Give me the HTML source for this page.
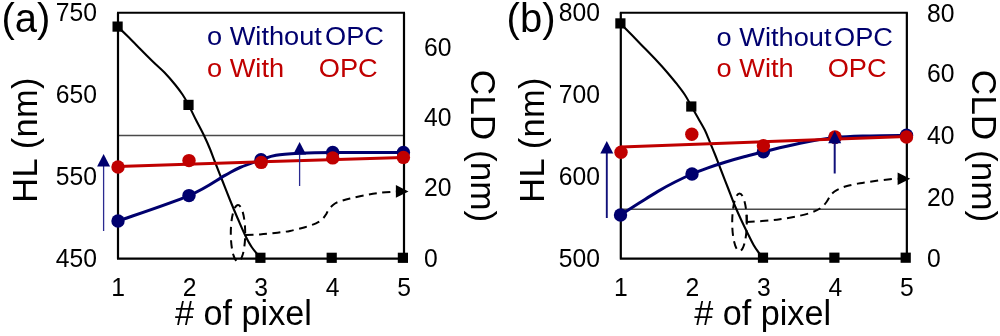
<!DOCTYPE html>
<html><head><meta charset="utf-8"><title>figure</title>
<style>
html,body{margin:0;padding:0;background:#fff;}
svg{display:block;}
text{font-family:"Liberation Sans",Arial,sans-serif;}
</style></head><body>
<svg width="1000" height="336" viewBox="0 0 1000 336">
<rect width="1000" height="336" fill="#fff"/>
<g>
<line x1="118" y1="135.6" x2="404" y2="135.6" stroke="#4a4a4a" stroke-width="1.5"/>
<path d="M117,12.75 H405" stroke="#000" stroke-width="2" fill="none"/>
<path d="M118,12.75 V258.7 M404,12.75 V258.7 M117,258.7 H405" stroke="#000" stroke-width="2.2" fill="none"/>
<path d="M117.5,26.6 C119.5,28.4 125.2,33.7 129.0,37.5 C132.8,41.3 136.6,45.3 140.5,49.3 C144.4,53.3 148.5,57.4 152.5,61.2 C156.5,65.1 160.8,68.6 164.5,72.5 C168.2,76.4 172.0,80.8 175.0,84.5 C178.0,88.2 180.2,91.1 182.5,94.5 C184.8,97.9 186.3,100.8 188.6,105.0 C190.8,109.2 193.4,114.9 196.0,120.0 C198.6,125.1 201.7,130.7 204.0,135.5 C206.3,140.3 208.2,144.6 210.0,149.0 C211.8,153.4 212.9,156.7 215.0,162.0 C217.1,167.3 220.0,174.7 222.5,181.0 C225.0,187.3 227.5,193.8 230.0,200.0 C232.5,206.2 235.0,212.2 237.5,218.0 C240.0,223.8 242.6,230.1 245.0,235.0 C247.4,239.9 249.4,243.7 252.0,247.5 C254.6,251.3 259.0,256.0 260.4,257.8" stroke="#000" stroke-width="2.1" fill="none"/>
<rect x="112.5" y="21.5" width="10.2" height="10.2" fill="#000"/>
<rect x="183.4" y="99.8" width="10.2" height="10.2" fill="#000"/>
<rect x="255.3" y="252.7" width="10.2" height="10.2" fill="#000"/>
<rect x="326.6" y="252.7" width="10.2" height="10.2" fill="#000"/>
<rect x="397.8" y="252.7" width="10.2" height="10.2" fill="#000"/>
<ellipse cx="238" cy="233.3" rx="7.2" ry="28.2" stroke="#000" stroke-width="2" fill="none" stroke-dasharray="8,5.5" stroke-dashoffset="8.5"/>
<path d="M245.5,235.0 C247.9,234.9 255.1,234.7 260.0,234.4 C264.9,234.1 270.0,233.6 275.0,233.0 C280.0,232.4 285.0,231.9 290.0,230.9 C295.0,229.9 300.7,228.5 305.0,227.2 C309.3,225.9 313.2,224.6 316.0,223.3 C318.8,222.0 320.3,221.0 322.0,219.5 C323.7,218.0 324.8,216.2 326.0,214.5 C327.2,212.8 327.5,210.8 329.0,209.0 C330.5,207.2 332.8,204.9 335.0,203.5 C337.2,202.1 339.5,201.5 342.0,200.7 C344.5,199.9 346.2,199.4 350.0,198.5 C353.8,197.6 360.0,196.1 365.0,195.2 C370.0,194.2 374.8,193.4 380.0,192.8 C385.2,192.2 393.3,191.7 396.0,191.5" stroke="#000" stroke-width="2" fill="none" stroke-dasharray="8,5.5"/>
<path d="M395.9,185.1 L395.9,197.7 L408.5,191.4 Z" fill="#000"/>
<path d="M118.0,221.0 C129.8,216.8 171.2,203.2 189.0,195.6 C206.8,188.0 216.5,180.1 225.0,175.4 C233.5,170.7 234.0,170.1 240.0,167.5 C246.0,164.9 255.0,161.8 261.0,159.8 C267.0,157.8 269.5,156.4 276.0,155.3 C282.5,154.2 290.6,153.8 300.0,153.3 C309.4,152.8 315.5,152.6 332.7,152.5 C349.9,152.4 391.6,152.5 403.4,152.5" stroke="#00006e" stroke-width="3" fill="none" stroke-linecap="round"/>
<circle cx="118.0" cy="221.0" r="6.7" fill="#00006e"/>
<circle cx="189.0" cy="195.6" r="6.7" fill="#00006e"/>
<circle cx="261.0" cy="159.8" r="6.7" fill="#00006e"/>
<circle cx="332.7" cy="152.5" r="6.7" fill="#00006e"/>
<circle cx="403.4" cy="152.5" r="6.7" fill="#00006e"/>
<line x1="118" y1="166.4" x2="403.4" y2="157.4" stroke="#c00000" stroke-width="3"/>
<circle cx="118.0" cy="167.0" r="6.7" fill="#c00000"/>
<circle cx="189.0" cy="160.6" r="6.7" fill="#c00000"/>
<circle cx="261.2" cy="162.4" r="6.7" fill="#c00000"/>
<circle cx="332.7" cy="157.9" r="6.7" fill="#c00000"/>
<circle cx="403.4" cy="157.4" r="6.7" fill="#c00000"/>
<line x1="103.6" y1="159.9" x2="103.6" y2="231" stroke="#2a2a90" stroke-width="1.3"/>
<path d="M103.6,153.9 L97.1,166.4 L110.1,166.4 Z" fill="#00006e"/>
<line x1="299.6" y1="147.9" x2="299.6" y2="186" stroke="#2a2a90" stroke-width="1.3"/>
<path d="M299.6,141.9 L293.1,154.4 L306.1,154.4 Z" fill="#00006e"/>
<text x="1.5" y="31.8" font-size="40">(a)</text>
<text transform="translate(97,21.3) scale(1,1.045)" font-size="24.7" text-anchor="end">750</text>
<text transform="translate(97,103.2) scale(1,1.045)" font-size="24.7" text-anchor="end">650</text>
<text transform="translate(97,185.2) scale(1,1.045)" font-size="24.7" text-anchor="end">550</text>
<text transform="translate(97,267.2) scale(1,1.045)" font-size="24.7" text-anchor="end">450</text>
<text transform="translate(423.9,56.4) scale(1,1.045)" font-size="24.7">60</text>
<text transform="translate(423.9,125.9) scale(1,1.045)" font-size="24.7">40</text>
<text transform="translate(423.9,195.8) scale(1,1.045)" font-size="24.7">20</text>
<text transform="translate(423.9,266.6) scale(1,1.045)" font-size="24.7">0</text>
<text transform="translate(118.0,296) scale(1,1.045)" font-size="24.7" text-anchor="middle">1</text>
<text transform="translate(189.5,296) scale(1,1.045)" font-size="24.7" text-anchor="middle">2</text>
<text transform="translate(261.0,296) scale(1,1.045)" font-size="24.7" text-anchor="middle">3</text>
<text transform="translate(332.5,296) scale(1,1.045)" font-size="24.7" text-anchor="middle">4</text>
<text transform="translate(404.0,296) scale(1,1.045)" font-size="24.7" text-anchor="middle">5</text>
<text x="175" y="325.4" font-size="34.2"># of pixel</text>
<text transform="translate(36.9,202.8) rotate(-90) scale(1,1.03)" font-size="34.4" letter-spacing="0.4">HL (nm)</text>
<text transform="translate(470.9,69.8) rotate(90) scale(1,1.02)" font-size="35.2">CLD (nm)</text>
<text transform="translate(207,45.2) scale(1,0.975)" font-size="27.2" fill="#00006e">o Without</text>
<text transform="translate(325,45.2) scale(1,0.975)" font-size="27.2" fill="#00006e">OPC</text>
<text transform="translate(207,76.6) scale(1,0.975)" font-size="27.2" fill="#c00000">o With</text>
<text transform="translate(318.8,76.6) scale(1,0.975)" font-size="27.2" fill="#c00000">OPC</text>
</g>
<g>
<line x1="620.8" y1="209.3" x2="906.85" y2="209.3" stroke="#4a4a4a" stroke-width="1.5"/>
<path d="M619.8,12.75 H907.85" stroke="#000" stroke-width="2" fill="none"/>
<path d="M620.8,12.75 V258.7 M906.85,12.75 V258.7 M619.8,258.7 H907.85" stroke="#000" stroke-width="2.2" fill="none"/>
<path d="M620.4,23.4 C623.7,26.7 633.9,37.1 640.0,43.4 C646.1,49.7 652.4,56.1 657.0,61.0 C661.6,65.9 664.2,68.8 667.5,72.7 C670.8,76.6 674.1,80.5 677.0,84.2 C679.9,87.9 682.6,91.3 685.0,95.0 C687.4,98.7 689.2,102.4 691.4,106.3 C693.6,110.2 696.0,114.3 698.2,118.3 C700.4,122.2 702.9,126.3 704.8,130.0 C706.6,133.7 707.6,136.5 709.3,140.6 C711.0,144.7 713.1,149.8 715.0,154.5 C716.9,159.2 718.4,163.4 720.6,169.0 C722.8,174.6 725.6,181.8 728.0,188.0 C730.4,194.2 732.8,200.8 735.0,206.0 C737.2,211.2 739.0,215.2 741.0,219.5 C743.0,223.8 744.9,227.8 747.0,232.0 C749.1,236.2 751.6,241.5 753.6,245.0 C755.6,248.5 757.4,250.9 759.0,253.0 C760.6,255.1 762.4,256.9 763.0,257.7" stroke="#000" stroke-width="2.1" fill="none"/>
<rect x="615.3" y="18.3" width="10.2" height="10.2" fill="#000"/>
<rect x="686.2" y="101.4" width="10.2" height="10.2" fill="#000"/>
<rect x="757.9" y="252.6" width="10.2" height="10.2" fill="#000"/>
<rect x="829.3" y="252.6" width="10.2" height="10.2" fill="#000"/>
<rect x="900.6" y="252.6" width="10.2" height="10.2" fill="#000"/>
<ellipse cx="739.5" cy="222.3" rx="7.3" ry="28.8" stroke="#000" stroke-width="2" fill="none" stroke-dasharray="8,5.5" stroke-dashoffset="5.7"/>
<path d="M746.7,222.0 C749.8,221.8 759.5,221.2 765.0,220.8 C770.5,220.4 775.0,220.0 780.0,219.3 C785.0,218.6 790.0,217.8 795.0,216.8 C800.0,215.7 805.8,214.4 810.0,213.0 C814.2,211.6 817.2,210.3 820.0,208.5 C822.8,206.7 824.8,204.2 826.5,202.0 C828.2,199.8 829.2,197.2 830.5,195.5 C831.8,193.8 832.9,192.7 834.5,191.5 C836.1,190.3 837.9,189.4 840.0,188.5 C842.1,187.6 843.7,186.9 847.0,186.0 C850.3,185.1 855.3,184.1 860.0,183.2 C864.7,182.4 870.0,181.7 875.0,181.0 C880.0,180.3 886.2,179.6 890.0,179.2 C893.8,178.8 896.2,178.8 897.5,178.7" stroke="#000" stroke-width="2" fill="none" stroke-dasharray="8,5.5"/>
<path d="M746.7,215 V222.8" stroke="#000" stroke-width="2" fill="none"/>
<path d="M897.6,172.4 L897.6,185 L910.2,178.7 Z" fill="#000"/>
<path d="M620.5,215.0 C623.8,212.9 633.8,206.4 640.0,202.5 C646.2,198.6 651.7,195.0 657.5,191.6 C663.3,188.2 669.2,184.9 675.0,182.0 C680.8,179.1 686.5,176.4 692.0,174.0 C697.5,171.6 702.5,169.8 708.0,167.8 C713.5,165.8 718.8,164.1 725.0,162.2 C731.2,160.3 738.6,158.2 745.0,156.5 C751.4,154.8 754.2,154.0 763.4,151.8 C772.6,149.6 788.1,145.7 800.0,143.3 C811.9,140.9 823.3,138.8 835.0,137.6 C846.7,136.4 858.1,136.3 870.0,135.9 C881.9,135.5 900.4,135.4 906.5,135.3" stroke="#00006e" stroke-width="3" fill="none" stroke-linecap="round"/>
<circle cx="620.5" cy="215.0" r="6.7" fill="#00006e"/>
<circle cx="692.0" cy="174.0" r="6.7" fill="#00006e"/>
<circle cx="763.4" cy="151.8" r="6.7" fill="#00006e"/>
<circle cx="835.0" cy="137.6" r="6.7" fill="#00006e"/>
<circle cx="906.5" cy="135.3" r="6.7" fill="#00006e"/>
<line x1="621" y1="147" x2="906.5" y2="136.6" stroke="#c00000" stroke-width="3"/>
<circle cx="621.0" cy="152.3" r="6.7" fill="#c00000"/>
<circle cx="691.8" cy="134.3" r="6.7" fill="#c00000"/>
<circle cx="763.4" cy="145.8" r="6.7" fill="#c00000"/>
<circle cx="835.0" cy="137.0" r="6.7" fill="#c00000"/>
<circle cx="906.5" cy="137.0" r="6.7" fill="#c00000"/>
<line x1="606.8" y1="147" x2="606.8" y2="218" stroke="#10107a" stroke-width="1.9"/>
<path d="M606.8,141 L600.3,153.5 L613.3,153.5 Z" fill="#00006e"/>
<line x1="834.7" y1="136.8" x2="834.7" y2="173.5" stroke="#10107a" stroke-width="2"/>
<path d="M834.7,130.8 L828.2,143.3 L841.2,143.3 Z" fill="#00006e"/>
<text x="506.6" y="31.8" font-size="40">(b)</text>
<text transform="translate(600,21.3) scale(1,1.045)" font-size="24.7" text-anchor="end">800</text>
<text transform="translate(600,103.2) scale(1,1.045)" font-size="24.7" text-anchor="end">700</text>
<text transform="translate(600,185.2) scale(1,1.045)" font-size="24.7" text-anchor="end">600</text>
<text transform="translate(600,267.2) scale(1,1.045)" font-size="24.7" text-anchor="end">500</text>
<text transform="translate(927.1,21.6) scale(1,1.045)" font-size="24.7">80</text>
<text transform="translate(927.1,82.3) scale(1,1.045)" font-size="24.7">60</text>
<text transform="translate(927.1,144.4) scale(1,1.045)" font-size="24.7">40</text>
<text transform="translate(927.1,206.4) scale(1,1.045)" font-size="24.7">20</text>
<text transform="translate(927.1,266.6) scale(1,1.045)" font-size="24.7">0</text>
<text transform="translate(620.8,296) scale(1,1.045)" font-size="24.7" text-anchor="middle">1</text>
<text transform="translate(692.3,296) scale(1,1.045)" font-size="24.7" text-anchor="middle">2</text>
<text transform="translate(763.8,296) scale(1,1.045)" font-size="24.7" text-anchor="middle">3</text>
<text transform="translate(835.3,296) scale(1,1.045)" font-size="24.7" text-anchor="middle">4</text>
<text transform="translate(906.9,296) scale(1,1.045)" font-size="24.7" text-anchor="middle">5</text>
<text x="694.2" y="325.4" font-size="34.2"># of pixel</text>
<text transform="translate(543.9,202.8) rotate(-90) scale(1,1.03)" font-size="34.4" letter-spacing="0.4">HL (nm)</text>
<text transform="translate(971.7,69.8) rotate(90) scale(1,1.02)" font-size="35.2">CLD (nm)</text>
<text transform="translate(716.6,45.8) scale(1,0.975)" font-size="27.2" fill="#00006e">o Without</text>
<text transform="translate(834,45.8) scale(1,0.975)" font-size="27.2" fill="#00006e">OPC</text>
<text transform="translate(716.6,77.1) scale(1,0.975)" font-size="27.2" fill="#c00000">o With</text>
<text transform="translate(827.7,77.1) scale(1,0.975)" font-size="27.2" fill="#c00000">OPC</text>
</g>
</svg>
</body></html>
